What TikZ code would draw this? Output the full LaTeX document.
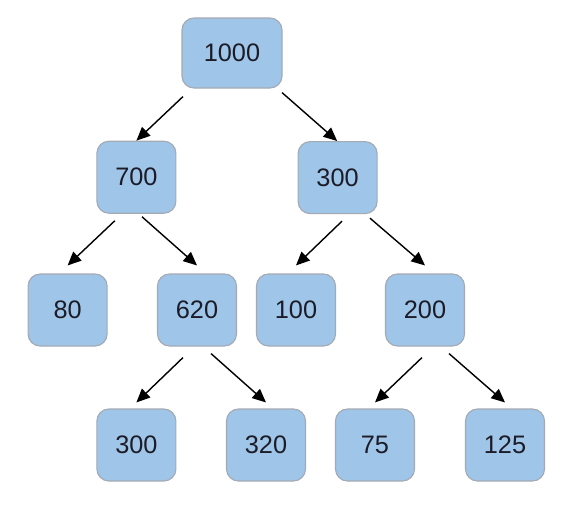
\documentclass[tikz,border=0pt]{standalone}
\usepackage{fontspec}
\setmainfont{Liberation Sans}
\usepackage{tikz}
\usetikzlibrary{arrows.meta}
\definecolor{BoxBlue}{HTML}{9FC5E8}
\definecolor{BoxEdge}{HTML}{A4AAB4}
\definecolor{NumText}{HTML}{1C1C28}
\tikzset{
	every node/.style={ % Udseende på hver boks
			font=\fontsize{18}{20}\selectfont,
			text=NumText
		},
	sumbox/.style={
			draw=BoxEdge,
			fill=BoxBlue,
			line width=0.8pt,
			rounded corners=0.3cm,
			minimum width=1.975cm,
			minimum height=1.8cm,
			inner sep=0pt
		},
	every edge/.style={ % Egenskaber for hver pil
			draw,
			black,
			line width=1pt
		}
}

\begin{document}
\begin{tikzpicture}[>={Triangle[length=3.4mm, width=3mm]}]
			\useasboundingbox (0,0) rectangle (14.425,-12.975);
			% Nodes
			\node (root) [sumbox, minimum width=2.5cm, minimum height=1.75cm] at (5.8, -1.325) {1000};
			\node (left) [sumbox] at (3.41, -4.43) {700};
			\node (right) [sumbox] at (8.44, -4.44) {300};
			\node (ll) [sumbox] at (1.69, -7.75) {80};
			\node (lr) [sumbox] at (4.925, -7.75) {620};
			\node (rl) [sumbox] at (7.4, -7.75) {100};
			\node (rr) [sumbox] at (10.625, -7.75) {200};
			\node (lrl) [sumbox] at (3.41, -11.125) {300};
			\node (lrr) [sumbox] at (6.65, -11.125) {320};
			\node (rrl) [sumbox] at (9.375, -11.125) {75};
			\node (rrr) [sumbox] at (12.625, -11.125) {125};

			% Edges
			\path[->] ([xshift=-1.225cm, yshift=-0.2cm]root.south) edge (left.north);
			\path[->] ([xshift=1.25cm, yshift=-0.1cm]root.south) edge ([xshift=-0.01cm]right.north);
			\path[->] ([xshift=-0.54cm, yshift=-0.175cm]left.south) edge ([yshift=0.2cm]ll.north);
			\path[->] ([xshift=0.14cm, yshift=-0.075cm]left.south) edge ([yshift=0.2cm]lr.north);
			\path[->] ([xshift=0.11cm, yshift=-0.175cm]right.south) edge ([yshift=0.2cm]rl.north);
			\path[->] ([xshift=0.81cm, yshift=-0.1cm]right.south) edge ([yshift=0.2cm]rr.north);
			\path[->] ([xshift=-0.35cm, yshift=-0.275cm]lr.south) edge ([yshift=0.15cm]lrl.north);
			\path[->] ([xshift=0.35cm, yshift=-0.175cm]lr.south) edge ([yshift=0.15cm]lrr.north);
			\path[->] ([xshift=-0.075cm, yshift=-0.275cm]rr.south) edge ([yshift=0.15cm]rrl.north);
			\path[->] ([xshift=0.6cm, yshift=-0.175cm]rr.south) edge ([yshift=0.15cm]rrr.north);

		\end{tikzpicture}
\end{document}
